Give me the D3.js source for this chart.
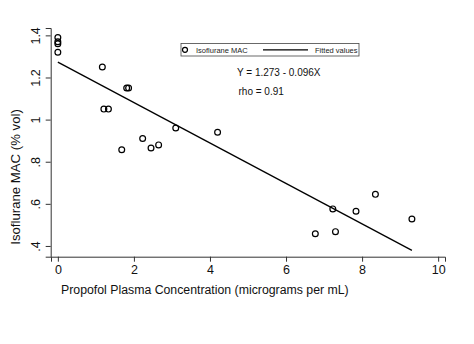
<!DOCTYPE html>
<html><head><meta charset="utf-8">
<script src="https://cdn.jsdelivr.net/npm/d3@7"></script>
<style>body{margin:0;background:#fff;}svg{display:block;font-family:"Liberation Sans",Arial,sans-serif;}</style>
</head><body>
<svg id="c" width="474" height="344"></svg>
<script>
const propofol = [0,0,0,0,1.17,1.81,1.86,1.21,1.33,3.10,4.20,2.23,2.65,2.45,1.68,8.35,7.23,7.84,9.31,6.77,7.30];
const isoMAC   = [1.39,1.37,1.36,1.32,1.25,1.15,1.15,1.05,1.05,0.96,0.94,0.91,0.88,0.865,0.857,0.645,0.576,0.565,0.528,0.458,0.468];
const xTicks = [0,2,4,6,8,10];
const yTicks = [0.4,0.6,0.8,1.0,1.2,1.4];
const yTickLabels = [".4",".6",".8","1","1.2","1.4"];
const fitIntercept = 1.273, fitSlope = -0.096;
const legendLabels = ["Isoflurane MAC","Fitted values"];
const annotations = ["Y = 1.273 - 0.096X","rho = 0.91"];
const xTitle = "Propofol Plasma Concentration (micrograms per mL)";
const yTitle = "Isoflurane MAC (% vol)";

const svg = d3.select("#c");
const x = d3.scaleLinear().domain([-0.18,10.18]).range([51,445]);
const y = d3.scaleLinear().domain([0.349,1.435]).range([256.7,28]);
const axisCol = "#333";

const xa = svg.append("g").attr("transform","translate(0,256.7)")
  .call(d3.axisBottom(x).tickValues(xTicks).tickSize(5).tickPadding(3).tickFormat(d3.format("d")));
xa.select(".domain").attr("stroke",axisCol);
xa.selectAll(".tick line").attr("stroke",axisCol);
xa.selectAll("text").attr("font-size",12.5).attr("fill","#111").attr("font-family","Liberation Sans, Arial, sans-serif");

const ya = svg.append("g").attr("transform","translate(50.7,0)")
  .call(d3.axisLeft(y).tickValues(yTicks).tickSize(5).tickFormat((d,i)=>yTickLabels[i]));
ya.select(".domain").attr("stroke",axisCol);
ya.selectAll(".tick line").attr("stroke",axisCol);
ya.selectAll("text").attr("font-size",12.5).attr("fill","#111").attr("font-family","Liberation Sans, Arial, sans-serif")
  .attr("x",0).attr("dy",0).attr("text-anchor","middle")
  .attr("transform","translate(-11,0) rotate(-90)");

// fitted line
const xmin = d3.min(propofol), xmax = d3.max(propofol);
svg.append("line")
  .attr("x1",x(xmin)).attr("y1",y(fitIntercept+fitSlope*xmin))
  .attr("x2",x(xmax)).attr("y2",y(fitIntercept+fitSlope*xmax))
  .attr("stroke","#000").attr("stroke-width",1.3);

// points
svg.append("g").selectAll("circle").data(propofol).join("circle")
  .attr("cx",d=>x(d)).attr("cy",(d,i)=>y(isoMAC[i])).attr("r",2.9)
  .attr("fill","none").attr("stroke","#000").attr("stroke-width",1.2);

// legend
const lg = svg.append("g");
lg.append("rect").attr("x",181).attr("y",43.5).attr("width",178).attr("height",12.5)
  .attr("fill","#fff").attr("stroke","#444").attr("stroke-width",0.8);
lg.append("circle").attr("cx",185).attr("cy",49.8).attr("r",2.5).attr("fill","none").attr("stroke","#000").attr("stroke-width",1.2);
lg.append("text").attr("x",196).attr("y",52.5).attr("font-size",7.5).attr("fill","#222").text(legendLabels[0]);
lg.append("line").attr("x1",263).attr("x2",308).attr("y1",49.8).attr("y2",49.8).attr("stroke","#000").attr("stroke-width",1.2);
lg.append("text").attr("x",315).attr("y",52.5).attr("font-size",7.5).attr("fill","#222").text(legendLabels[1]);

svg.append("text").attr("x",237).attr("y",76).attr("font-size",10).attr("fill","#111").text(annotations[0]);
svg.append("text").attr("x",238.5).attr("y",95).attr("font-size",10).attr("fill","#111").text(annotations[1]);

// titles
svg.append("text").attr("x",61).attr("y",294).attr("font-size",12.3).attr("fill","#111").text(xTitle);
svg.append("text").attr("transform","translate(20,177) rotate(-90)").attr("text-anchor","middle")
  .attr("font-size",13.2).attr("fill","#111").text(yTitle);
</script>
</body></html>
